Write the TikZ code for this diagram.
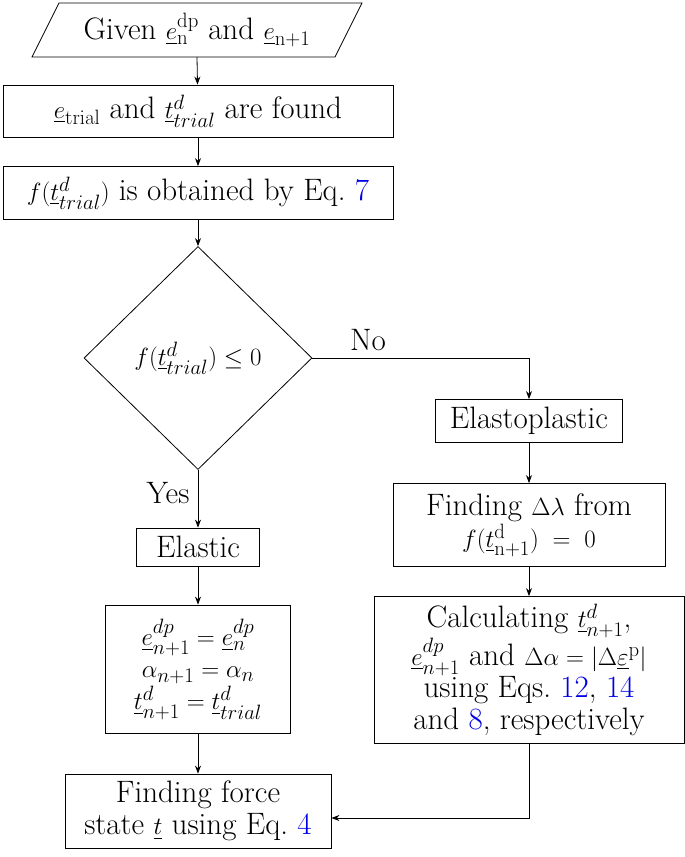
\documentclass[tikz,border=0pt]{standalone}
\usepackage{amsmath}
\usetikzlibrary{shapes.geometric,arrows.meta}
\definecolor{refblue}{RGB}{0,0,230}
\newcommand{\rf}[1]{\textcolor{refblue}{#1}}
\begin{document}
\begin{tikzpicture}[x=1pt,y=-1pt,
  every node/.style={font=\fontsize{31}{32}\selectfont},
  box/.style={draw,line width=0.8pt,align=center,inner sep=0pt},
  arr/.style={line width=0.8pt,-{Stealth[length=8pt,width=6pt]}}]
\useasboundingbox (0,0) rectangle (685,857);
\node[align=center,minimum height=54] (p) at (197,30) {Given $\underline{e}_{\mathrm{n}}^{\mathrm{dp}}$ and $\underline{e}_{\mathrm{n+1}}$};
\draw[line width=0.8pt] (32,57) -- (59,3) -- (362,3) -- (335,57) -- cycle;
\node[box,minimum width=390,minimum height=52] (b2) at (198,111) {$\underline{e}_{\mathrm{trial}}$ and $\underline{t}^{d}_{trial}$ are found};
\node[box,minimum width=390,minimum height=53] (b3) at (198,193) {$f(\underline{t}^{d}_{trial})$ is obtained by Eq.~\rf{7}};
\node[box,diamond,minimum width=228,minimum height=223,inner sep=0pt] (d) at (198,358) {};
\node at (198,358) {$f(\underline{t}^{d}_{trial})\le 0$};
\node[box,minimum width=187,minimum height=43] (ep) at (529,421) {Elastoplastic};
\node[box,minimum width=272,minimum height=83] (fl) at (529,525) {Finding $\Delta\lambda$ from\\ $f(\underline{t}^{\mathrm{d}}_{\mathrm{n+1}})\;=\;0$};
\node[box,minimum width=310,minimum height=147] (c) at (529,670) {Calculating $\underline{t}^{d}_{n+1}$,\\ $\underline{e}^{dp}_{n+1}$ and $\Delta\alpha=|\Delta\underline{\varepsilon}^{\mathrm{p}}|$\\ using Eqs.~\rf{12}, \rf{14}\\ and \rf{8}, respectively};
\node[box,minimum width=123,minimum height=38] (el) at (198,547) {Elastic};
\node[box,minimum width=185,minimum height=128] (e) at (198,669) {$\underline{e}^{dp}_{n+1}=\underline{e}^{dp}_{n}$\\ $\alpha_{n+1}=\alpha_n$\\ $\underline{t}^{d}_{n+1}=\underline{t}^{d}_{trial}$};
\node[box,minimum width=266,minimum height=74] (f) at (198,811) {Finding force\\ state $\underline{t}$ using Eq.~\rf{4}};
\coordinate (k) at (529,358);
\coordinate (k2) at (529,818);
\draw[arr] (197,57) -- (b2);
\draw[arr] (b2) -- (b3);
\draw[arr] (b3) -- (d.north);
\draw[arr] (d.east) -- (k) -- (ep);
\node at (368,340) {No};
\draw[arr] (ep) -- (fl);
\draw[arr] (fl) -- (c);
\draw[arr] (d.south) -- (el);
\node at (168,493) {Yes};
\draw[arr] (el) -- (e);
\draw[arr] (e) -- (f);
\draw[arr] (c.south) -- (k2) -- (f.east |- k2);
\end{tikzpicture}
\end{document}
